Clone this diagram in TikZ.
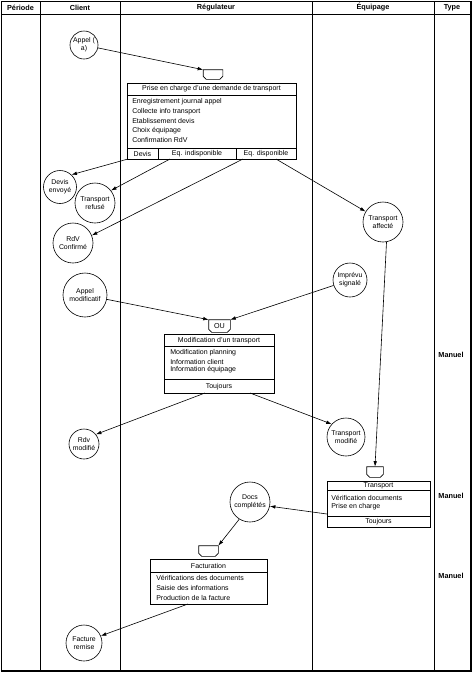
\documentclass[tikz,border=0pt]{standalone}
\usepackage{fontspec}
\setmainfont{Liberation Sans}
\usetikzlibrary{arrows.meta,calc}
\newcommand\trapdraw[1]{\draw (#1.north west) -- (#1.north east) -- ([yshift=3pt]#1.south east) -- ([xshift=-3pt]#1.south east) -- ([xshift=3pt]#1.south west) -- ([yshift=3pt]#1.south west) -- cycle;}
\begin{document}
\begin{tikzpicture}[x=1pt,y=-1pt, line width=0.6pt,
  txt/.style={font=\fontsize{7}{8}\selectfont, inner sep=0pt},
  btxt/.style={txt, anchor=west},
  hdr/.style={font=\fontsize{7.3}{8.5}\selectfont\bfseries, inner sep=0pt},
  circ/.style={circle, draw, inner sep=0pt, align=center, font=\fontsize{6.9}{8}\selectfont},
  boxn/.style={draw, rectangle, inner sep=0pt, anchor=north west},
  trapn/.style={rectangle, inner sep=0pt, font=\fontsize{7.2}{8}\selectfont},
  arr/.style={-{Latex[length=5.5pt,width=3.6pt]}},
]
\useasboundingbox (0,0) rectangle (473,673);
% frame
\coordinate (fTL) at (1,1);
\coordinate (fBR) at (471,671);
\draw (fTL) rectangle (fBR);
\draw[line width=1.6pt] (471,0.7) -- (471,672);
\draw[line width=1.6pt] (0.7,671) -- (472,671);
\draw (1,14) -- (471,14);
\foreach \x in {40.5,120,312,434} \draw (\x,1) -- (\x,671);
% headers
\node[hdr] (hP) at (20.5,7.5) {Période};
\node[hdr] (hC) at (80,7.5) {Client};
\node[hdr] (hR) at (216,7.5) {Régulateur};
\node[hdr] (hE) at (373,7.5) {Équipage};
\node[hdr] (hT) at (452,7.5) {Type};
\node[hdr] (m1) at (451,355) {Manuel};
\node[hdr] (m2) at (451,496) {Manuel};
\node[hdr] (m3) at (451,576) {Manuel};

% circles
\node[circ, minimum size=28pt] (appelA) at (84,45) {Appel (\\a)};
\node[circ, minimum size=33pt] (devis) at (60,187) {Devis\\envoyé};
\node[circ, minimum size=40pt] (refuse) at (95,203) {Transport\\refusé};
\node[circ, minimum size=40pt] (rdvc) at (73,243) {RdV\\Confirmé};
\node[circ, minimum size=44pt] (appelM) at (85,295) {Appel\\modificatif};
\node[circ, minimum size=30pt] (rdvm) at (84,444) {Rdv\\modifié};
\node[circ, minimum size=36pt] (facture) at (84,643) {Facture\\remise};
\node[circ, minimum size=40pt] (affecte) at (383,222) {Transport\\affecté};
\node[circ, minimum size=34pt] (imprevu) at (350,280) {Imprévu\\signalé};
\node[circ, minimum size=38pt] (tmod) at (346,437) {Transport\\modifié};
\node[circ, minimum size=40pt] (docs) at (250,502) {Docs\\complétés};

% box 1
\node[trapn, minimum width=19pt, minimum height=9pt] (t1) at (213,74.5) {};
\trapdraw{t1}
\node[boxn, minimum width=169pt, minimum height=76pt] (b1) at (127,83) {};
\draw ($(b1.north west)+(0,12)$) -- ($(b1.north east)+(0,12)$);
\draw ($(b1.north west)+(0,65)$) -- ($(b1.north east)+(0,65)$);
\draw (158,148) -- (158,159);
\draw (236,148) -- (236,159);
\node[txt] (b1t) at (211.5,89) {Prise en charge d'une demande de transport};
\node[btxt] at (132,102) {Enregistrement journal appel};
\node[btxt] at (132,111.5) {Collecte info transport};
\node[btxt] at (132,121) {Etablissement devis};
\node[btxt] at (132,130.5) {Choix équipage};
\node[btxt] at (132,140) {Confirmation RdV};
\node[txt] at (142.5,153.7) {Devis};
\node[txt] at (197,153.7) {Eq. indisponible};
\node[txt] at (266,153.7) {Eq. disponible};

% box 2
\node[trapn, minimum width=21pt, minimum height=12pt] (ou) at (219.5,326) {OU};
\trapdraw{ou}
\node[boxn, minimum width=110pt, minimum height=59pt] (b2) at (164,334) {};
\draw ($(b2.north west)+(0,12)$) -- ($(b2.north east)+(0,12)$);
\draw ($(b2.north west)+(0,45)$) -- ($(b2.north east)+(0,45)$);
\node[txt] at (219,340.5) {Modification d'un transport};
\node[btxt] at (170,353) {Modification planning};
\node[btxt] at (170,361.5) {Information client};
\node[btxt] at (170,370) {Information équipage};
\node[txt] at (219,386.5) {Toujours};

% box 3
\node[trapn, minimum width=16pt, minimum height=10pt] (t3) at (375,472) {};
\trapdraw{t3}
\node[boxn, minimum width=103pt, minimum height=46pt] (b3) at (327,481) {};
\draw ($(b3.north west)+(0,9.5)$) -- ($(b3.north east)+(0,9.5)$);
\draw ($(b3.north west)+(0,35)$) -- ($(b3.north east)+(0,35)$);
\node[txt] at (378.5,486) {Transport};
\node[btxt] at (331,497.5) {Vérification documents};
\node[btxt] at (331,507) {Prise en charge};
\node[txt] at (378.5,521.5) {Toujours};

% box 4
\node[trapn, minimum width=19pt, minimum height=10pt] (t4) at (208.5,551) {};
\trapdraw{t4}
\node[boxn, minimum width=117pt, minimum height=45pt] (b4) at (150,559) {};
\draw ($(b4.north west)+(0,13)$) -- ($(b4.north east)+(0,13)$);
\node[txt] at (208.5,565.5) {Facturation};
\node[btxt] at (156,578) {Vérifications des documents};
\node[btxt] at (156,588) {Saisie des informations};
\node[btxt] at (156,598) {Production de la facture};

% connector start points
\coordinate (s1) at (128,159);
\coordinate (s2) at (170,159);
\coordinate (s3) at (243,159);
\coordinate (s4) at (276,159);
\coordinate (s5) at (205,393);
\coordinate (s6) at (250,393);
\coordinate (s7) at (327,514);
\coordinate (s8) at (188,604);

% connectors
\draw[arr] (appelA) -- (t1.north west);
\draw[arr] (s1) -- (devis.47);
\draw[arr] (s2) -- (refuse.38);
\draw[arr] (s3) -- (rdvc.22);
\draw[arr] (s4) -- (affecte.149);
\draw[arr] (appelM) -- (ou.north west);
\draw[arr] (imprevu) -- (ou.north east);
\draw[arr] (s5) -- (rdvm.39);
\draw[arr] (s6) -- (tmod.138);
\draw[arr] (affecte.-80) -- (t3.north);
\draw[arr] (s7) -- (docs.-12);
\draw[arr] (docs.-122) -- (t4.north east);
\draw[arr] (s8) -- (facture.23);
\end{tikzpicture}
\end{document}
